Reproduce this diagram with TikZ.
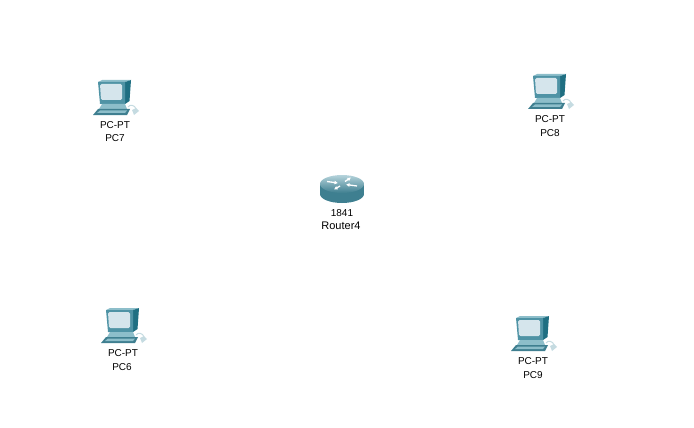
\documentclass[tikz,border=0pt]{standalone}
\usepackage{fontspec}
\setmainfont{Liberation Sans}
\usepackage{xcolor}
\usetikzlibrary{arrows.meta}
\definecolor{pcfacecolor}{HTML}{4F93A5}
\definecolor{pcsidecolor}{HTML}{1F6F82}
\definecolor{pctopcolor}{HTML}{8DBECA}
\definecolor{pcscreencolor}{HTML}{D5E5EC}
\definecolor{pcdarkcolor}{HTML}{3F7F90}
\definecolor{pcmousecolor}{HTML}{C5DBE1}
\definecolor{routerlightcolor}{HTML}{B5D3DB}
\definecolor{routerdarkcolor}{HTML}{3E7F90}
\tikzset{
  devlabel/.style={font=\fontsize{10}{12}\selectfont,inner sep=0pt,text=black},
  pc/.pic={
    \fill [pctopcolor] (-17,-18) -- (-13,-20) -- (16,-20) -- (10,-18) -- cycle;
    \fill [pcsidecolor] (10,-18) -- (16,-20) -- (14.5,1) -- (10,4) -- cycle;
    \fill [pcfacecolor] (-17,-18) -- (10,-18) -- (10,4) -- (-15,4) -- cycle;
    \fill [pcscreencolor,rounded corners=1.5pt] (-15,-16) -- (7,-16) -- (7,0) -- (-14,0) -- cycle;
    \fill [pctopcolor] (-13,4) -- (10,4) -- (12,9) -- (-16,9) -- cycle;
    \fill [pcdarkcolor] (-17,9) -- (15,9) -- (12,15) -- (-22,15) -- cycle;
    \fill [pctopcolor] (-15,10.5) -- (12,10.5) -- (10,13) -- (-18,13) -- cycle;
    \draw [pcmousecolor,line width=1pt] (13,7) .. controls (15,4) and (20,5) .. (21,9);
    \fill [pcmousecolor] (17,10) -- (21,8) -- (24,11) -- (19,15) -- cycle;
  },
  routericon/.pic={
    \shade [left color=routerdarkcolor,middle color=routerlightcolor,right color=routerdarkcolor]
      (-22,-5) -- (-22,5) arc [start angle=180,end angle=0,x radius=22,y radius=9] -- (22,-5) -- cycle;
    \shade [top color=routerlightcolor,bottom color=routerdarkcolor] (0,-5) ellipse [x radius=22,y radius=9];
    \draw [white,line width=1.3pt,-{Latex[length=3.5pt,width=4pt]}] (-15,-7.5) -- (-4,-6);
    \draw [white,line width=1.3pt,-{Latex[length=3.5pt,width=4pt]}] (15,-3) -- (4,-4.5);
    \draw [white,line width=1.3pt,-{Latex[length=3.5pt,width=4pt]}] (3,-7.5) -- (9,-11.5);
    \draw [white,line width=1.3pt,-{Latex[length=3.5pt,width=4pt]}] (-2,-3) -- (-8,0.5);
  }
}
\begin{document}
\begin{tikzpicture}[x=1pt,y=-1pt]
    \useasboundingbox (0,0) rectangle (694,428);
    % the four PCs
    \pic at (115,100) {pc};
    \node [devlabel] (pc7type) at (115,125) {PC-PT};
    \node [devlabel] (pc7name) at (115,138) {PC7};
    \pic at (550,94) {pc};
    \node [devlabel] (pc8type) at (550,119) {PC-PT};
    \node [devlabel] (pc8name) at (550,133) {PC8};
    \pic at (123,328) {pc};
    \node [devlabel] (pc6type) at (123,353) {PC-PT};
    \node [devlabel] (pc6name) at (122,367) {PC6};
    \pic at (533,336) {pc};
    \node [devlabel] (pc9type) at (533,361) {PC-PT};
    \node [devlabel] (pc9name) at (533,375) {PC9};
    % router
    \pic at (342,189) {routericon};
    \node [devlabel] (routertype) at (342,213) {1841};
    \node [devlabel,font=\fontsize{11}{12}\selectfont] (routername) at (341,226) {Router4};
\end{tikzpicture}
\end{document}
